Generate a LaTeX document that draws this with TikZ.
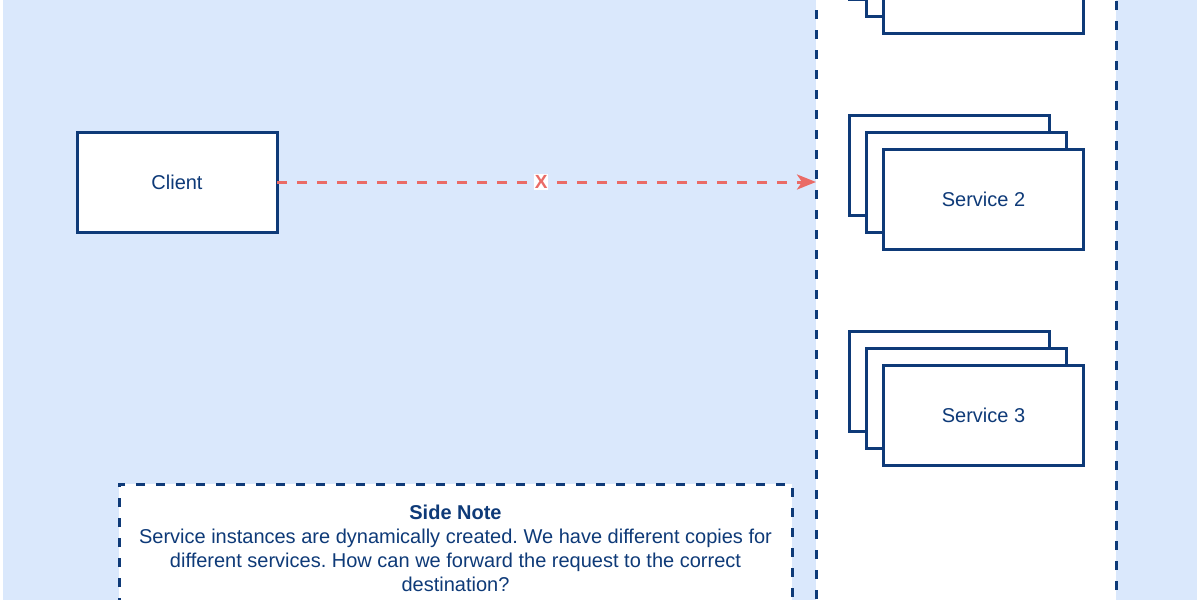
\documentclass[tikz,border=0pt]{standalone}
\usepackage{fontspec}
\setmainfont{Liberation Sans}
\usetikzlibrary{arrows.meta}
\definecolor{navy}{HTML}{0E3A78}
\definecolor{paleblue}{HTML}{DAE8FC}
\definecolor{alert}{HTML}{EA6B66}
\frenchspacing
\tikzset{
  box/.style={draw=navy,line width=3pt,fill=white,minimum width=200pt,minimum height=100pt,
    inner sep=0pt,outer sep=0pt,text=navy,font=\fontsize{20}{24}\selectfont},
  border/.style={draw=navy,line width=3pt,dash pattern=on 9pt off 11pt,fill=white,outer sep=0pt},
  request/.style={draw=alert,line width=3pt,dash pattern=on 10pt off 10pt,
    -{Stealth[length=19pt,width=15pt,inset=5pt]}},
}

\begin{document}
\begin{tikzpicture}[x=1pt,y=-1pt]
\useasboundingbox (0,0) rectangle (1200,600);
\clip (0,0) rectangle (1200,600);
\fill[white] (0,0) rectangle (1200,600);
\fill[paleblue] (3,0) rectangle (1197,600);
% white column holding the services
\node[border,minimum width=300pt,minimum height=700pt] (column) at (966,300) { };
% service stacks
\foreach \n/\y/\t in {1/-17/{},2/199/{Service 2},3/415/{Service 3}} {
  \node[box] (back\n) at (949.5,\y-34) { };
  \node[box] (mid\n) at (966.5,\y-17) { };
  \node[box] (service\n) at (983.5,\y) { \t };
}
\node[box] (client) at (177,182) { Client };
\draw[request] (client.east) -- (client -| column.west)
  node[pos=0.49,fill=white,inner sep=1pt,text=alert,font=\fontsize{19}{19}\selectfont\bfseries] (fail) {X};
% side note
\node[border,minimum width=673pt,minimum height=160pt] (sidenote) at (455.5,564) { };
\node[text=navy,align=center,font=\fontsize{20}{24}\selectfont] (notetext) at (455.5,548)
  {\textbf{Side Note}\\
   Service instances are dynamically created. We have different copies for\\
   different services. How can we forward the request to the correct\\
   destination?};
\end{tikzpicture}
\end{document}
